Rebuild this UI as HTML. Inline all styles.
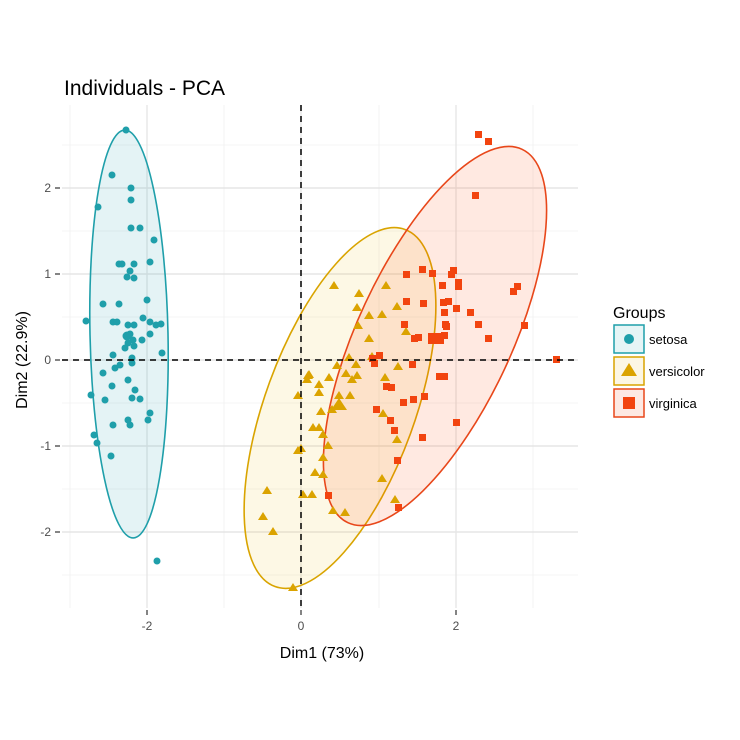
<!DOCTYPE html>
<html><head><meta charset="utf-8"><style>
html,body{margin:0;padding:0;background:#fff;}
svg{display:block;font-family:"Liberation Sans",sans-serif;}
</style></head><body>
<svg width="740" height="740" viewBox="0 0 740 740">
<rect width="740" height="740" fill="#fff"/>
<g stroke="#f0f0f0" stroke-width="0.8">
<line x1="62" x2="578" y1="145" y2="145"/><line x1="62" x2="578" y1="231" y2="231"/><line x1="62" x2="578" y1="317" y2="317"/><line x1="62" x2="578" y1="403" y2="403"/><line x1="62" x2="578" y1="489" y2="489"/><line x1="62" x2="578" y1="575" y2="575"/>
<line x1="70" x2="70" y1="105" y2="608"/><line x1="224" x2="224" y1="105" y2="608"/><line x1="379" x2="379" y1="105" y2="608"/><line x1="533" x2="533" y1="105" y2="608"/>
</g>
<g stroke="#e6e6e6" stroke-width="1.4">
<line x1="62" x2="578" y1="188" y2="188"/><line x1="62" x2="578" y1="274" y2="274"/><line x1="62" x2="578" y1="360" y2="360"/><line x1="62" x2="578" y1="446" y2="446"/><line x1="62" x2="578" y1="532" y2="532"/>
<line x1="147" x2="147" y1="105" y2="608"/><line x1="301" x2="301" y1="105" y2="608"/><line x1="456" x2="456" y1="105" y2="608"/>
</g>
<ellipse cx="0" cy="0" rx="39" ry="204" transform="translate(129,334) rotate(-1.2)" fill="#1f9faa" fill-opacity="0.12" stroke="#1f9faa" stroke-width="1.6"/>
<ellipse cx="0" cy="0" rx="190" ry="75" transform="translate(340,408) rotate(-70)" fill="#e7b800" fill-opacity="0.1" stroke="#d9a400" stroke-width="1.6"/>
<ellipse cx="0" cy="0" rx="206" ry="77" transform="translate(435,336) rotate(-65)" fill="#fc4e07" fill-opacity="0.12" stroke="#e8471a" stroke-width="1.6"/>
<g fill="#1f9faa">
<circle cx="126" cy="130" r="3.5"/><circle cx="112" cy="175" r="3.5"/><circle cx="98" cy="207" r="3.5"/><circle cx="131" cy="188" r="3.5"/><circle cx="131" cy="200" r="3.5"/><circle cx="131" cy="228" r="3.5"/><circle cx="140" cy="228" r="3.5"/><circle cx="154" cy="240" r="3.5"/><circle cx="150" cy="262" r="3.5"/><circle cx="119" cy="264" r="3.5"/><circle cx="122" cy="264" r="3.5"/><circle cx="134" cy="264" r="3.5"/><circle cx="130" cy="271" r="3.5"/><circle cx="134" cy="278" r="3.5"/><circle cx="127" cy="277" r="3.5"/><circle cx="103" cy="304" r="3.5"/><circle cx="119" cy="304" r="3.5"/><circle cx="147" cy="300" r="3.5"/><circle cx="156" cy="325" r="3.5"/><circle cx="86" cy="321" r="3.5"/><circle cx="113" cy="322" r="3.5"/><circle cx="117" cy="322" r="3.5"/><circle cx="128" cy="325" r="3.5"/><circle cx="134" cy="325" r="3.5"/><circle cx="143" cy="318" r="3.5"/><circle cx="150" cy="322" r="3.5"/><circle cx="161" cy="324" r="3.5"/><circle cx="127" cy="336" r="4.5"/><circle cx="130" cy="334" r="3.5"/><circle cx="133" cy="340" r="3.5"/><circle cx="128" cy="343" r="3.5"/><circle cx="134" cy="346" r="3.5"/><circle cx="142" cy="340" r="3.5"/><circle cx="150" cy="334" r="3.5"/><circle cx="162" cy="353" r="3.5"/><circle cx="113" cy="355" r="3.5"/><circle cx="125" cy="348" r="3.5"/><circle cx="132" cy="358" r="3.5"/><circle cx="103" cy="373" r="3.5"/><circle cx="115" cy="368" r="3.5"/><circle cx="120" cy="365" r="3.5"/><circle cx="132" cy="363" r="3.5"/><circle cx="128" cy="380" r="3.5"/><circle cx="112" cy="386" r="3.5"/><circle cx="135" cy="390" r="3.5"/><circle cx="132" cy="398" r="3.5"/><circle cx="140" cy="399" r="3.5"/><circle cx="150" cy="413" r="3.5"/><circle cx="128" cy="420" r="3.5"/><circle cx="97" cy="443" r="3.5"/><circle cx="130" cy="425" r="3.5"/><circle cx="148" cy="420" r="3.5"/><circle cx="111" cy="456" r="3.5"/><circle cx="113" cy="425" r="3.5"/><circle cx="157" cy="561" r="3.5"/><circle cx="91" cy="395" r="3.5"/><circle cx="94" cy="435" r="3.5"/><circle cx="105" cy="400" r="3.5"/>
</g>
<g fill="#dba300">
<path d="M334,281l5,8h-10z M359,289l5,8h-10z M386,281l5,8h-10z M357,303l5,8h-10z M369,311l5,8h-10z M382,310l5,8h-10z M397,302l5,8h-10z M358,321l5,8h-10z M406,327l5,8h-10z M369,334l5,8h-10z M349,353l5,8h-10z M372,352l5,8h-10z M337,361l5,8h-10z M346,369l5,8h-10z M356,360l5,8h-10z M357,371l5,8h-10z M352,375l5,8h-10z M398,362l5,8h-10z M385,373l5,8h-10z M308,371l5,8h-10z M307,375l5,8h-10z M319,380l5,8h-10z M319,388l5,8h-10z M329,373l5,8h-10z M339,391l5,8h-10z M350,391l5,8h-10z M339,398l8,12h-16z M332,405l5,8h-10z M321,407l5,8h-10z M383,409l5,8h-10z M313,423l5,8h-10z M319,423l5,8h-10z M323,430l5,8h-10z M328,441l5,8h-10z M298,446l5,8h-10z M301,444l5,8h-10z M323,453l5,8h-10z M315,468l5,8h-10z M323,470l5,8h-10z M382,474l5,8h-10z M303,490l5,8h-10z M312,490l5,8h-10z M333,506l5,8h-10z M345,508l5,8h-10z M395,495l5,8h-10z M397,435l5,8h-10z M293,583l5,8h-10z M267,486l5,8h-10z M263,512l5,8h-10z M273,527l5,8h-10z M298,391l5,8h-10z M309,370l5,8h-10z"/>
</g>
<g fill="#f2440f">
<path d="M475,131h7v7h-7z M485,138h7v7h-7z M472,192h7v7h-7z M403,271h7v7h-7z M419,266h7v7h-7z M429,270h7v7h-7z M450,267h7v7h-7z M448,271h7v7h-7z M439,282h7v7h-7z M455,279h7v7h-7z M455,283h7v7h-7z M403,298h7v7h-7z M420,300h7v7h-7z M440,299h7v7h-7z M445,298h7v7h-7z M441,309h7v7h-7z M453,305h7v7h-7z M467,309h7v7h-7z M514,283h7v7h-7z M510,288h7v7h-7z M401,321h7v7h-7z M442,321h7v7h-7z M443,323h7v7h-7z M475,321h7v7h-7z M521,322h7v7h-7z M441,332h7v7h-7z M411,335h7v7h-7z M415,334h7v7h-7z M428,333h11v11h-11z M433,333h11v11h-11z M485,335h7v7h-7z M376,352h7v7h-7z M371,360h7v7h-7z M369,355h7v7h-7z M409,361h7v7h-7z M553,356h7v7h-7z M436,373h7v7h-7z M441,373h7v7h-7z M383,383h7v7h-7z M388,384h7v7h-7z M400,399h7v7h-7z M410,396h7v7h-7z M421,393h7v7h-7z M373,406h7v7h-7z M387,417h7v7h-7z M391,427h7v7h-7z M453,419h7v7h-7z M419,434h7v7h-7z M394,457h7v7h-7z M325,492h7v7h-7z M395,504h7v7h-7z"/>
</g>
<g stroke="#000" stroke-width="1.5" stroke-dasharray="6,5">
<line x1="62" x2="578" y1="360" y2="360"/><line x1="301" x2="301" y1="105" y2="608"/>
</g>
<g stroke="#333" stroke-width="1.2">
<line x1="55" x2="60" y1="188" y2="188"/><line x1="55" x2="60" y1="274" y2="274"/><line x1="55" x2="60" y1="360" y2="360"/><line x1="55" x2="60" y1="446" y2="446"/><line x1="55" x2="60" y1="532" y2="532"/>
<line x1="147" x2="147" y1="610" y2="615"/><line x1="301" x2="301" y1="610" y2="615"/><line x1="456" x2="456" y1="610" y2="615"/>
</g>
<g fill="#4d4d4d" font-size="12" text-anchor="end">
<text x="51" y="192">2</text><text x="51" y="278">1</text><text x="51" y="364">0</text><text x="51" y="450">-1</text><text x="51" y="536">-2</text>
</g>
<g fill="#4d4d4d" font-size="12" text-anchor="middle">
<text x="147" y="630">-2</text><text x="301" y="630">0</text><text x="456" y="630">2</text>
</g>
<text x="322" y="658" font-size="16" text-anchor="middle" fill="#000">Dim1 (73%)</text>
<text transform="translate(27,360) rotate(-90)" font-size="16" text-anchor="middle" fill="#000">Dim2 (22.9%)</text>
<text x="64" y="95" font-size="21" fill="#000">Individuals - PCA</text>
<text x="613" y="318" font-size="16" fill="#000">Groups</text>
<rect x="614" y="325" width="30" height="28" fill="#e6f5f6" stroke="#1f9faa" stroke-width="1.5"/>
<circle cx="629" cy="339" r="5" fill="#1f9faa"/>
<rect x="614" y="357" width="30" height="28" fill="#fcf6e4" stroke="#d9a400" stroke-width="1.5"/>
<path d="M629,363l8,13h-16z" fill="#dba300"/>
<rect x="614" y="389" width="30" height="28" fill="#fde9e3" stroke="#e8471a" stroke-width="1.5"/>
<rect x="623" y="397" width="12" height="12" fill="#f2440f"/>
<g font-size="13" fill="#000">
<text x="649" y="344">setosa</text><text x="649" y="376">versicolor</text><text x="649" y="408">virginica</text>
</g>
</svg>
</body></html>
